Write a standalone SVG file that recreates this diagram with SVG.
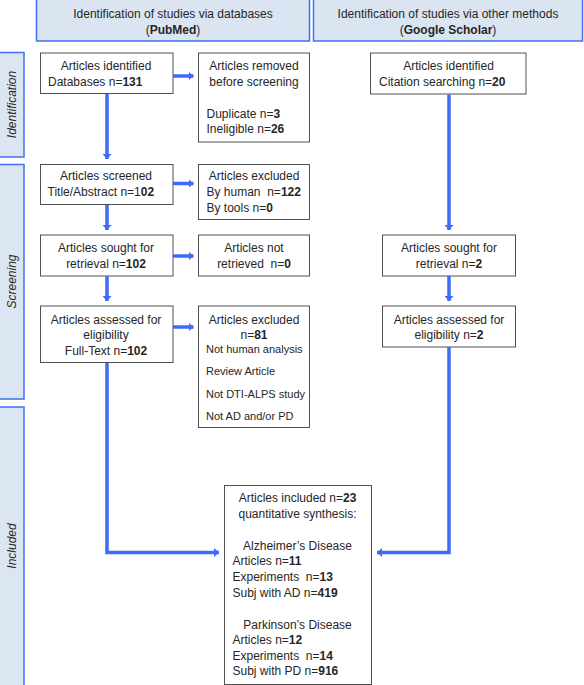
<svg xmlns="http://www.w3.org/2000/svg" width="584" height="685" viewBox="0 0 584 685">
<style>
text{font-family:"Liberation Sans",Arial,sans-serif;font-size:12px;fill:#262626;white-space:pre}
.c{text-anchor:middle}
.s{font-size:11px}
.b{font-weight:bold}
.box{fill:#fff;stroke:#505050;stroke-width:1}
.hdr{fill:#dbe5f1;stroke:#3f6ff5;stroke-width:1.5}
.side{fill:#dce6f2;stroke:#3f6ff5;stroke-width:1.5}
.lbl{font-style:italic;text-anchor:middle}
.ln{fill:none;stroke:#3d6bfa;stroke-width:3.5}
</style>
<defs>
<marker id="ah" markerUnits="userSpaceOnUse" markerWidth="8" markerHeight="9" refX="5" refY="4.5" orient="auto">
<path d="M0,0 L5,4.5 L0,9 Z" fill="#3d6bfa"/>
</marker>
</defs>
<rect width="584" height="685" fill="#fff"/>

<g id="hdr-db"><rect class="hdr" x="36.5" y="-1" width="273" height="42"/>
<text class="c" x="173" y="18">Identification of studies via databases</text>
<text class="c" x="173" y="33.5">(<tspan class="b">PubMed</tspan>)</text></g>
<g id="hdr-other"><rect class="hdr" x="313.5" y="-1" width="269" height="42"/>
<text class="c" x="448" y="18">Identification of studies via other methods</text>
<text class="c" x="448" y="33.5">(<tspan class="b">Google Scholar</tspan>)</text></g>

<g id="side-ident"><rect class="side" x="-1" y="52.5" width="25" height="104.5"/>
<text class="lbl" transform="translate(16,104.5) rotate(-90)">Identification</text></g>
<g id="side-screen"><rect class="side" x="-1" y="164.5" width="25" height="234.5"/>
<text class="lbl" transform="translate(16,281.5) rotate(-90)">Screening</text></g>
<g id="side-incl"><rect class="side" x="-1" y="407" width="25" height="280"/>
<text class="lbl" transform="translate(16,546) rotate(-90)">Included</text></g>

<g id="n-identified"><rect class="box" x="40.5" y="53" width="132.5" height="40.5"/>
<text class="c" x="106" y="70">Articles identified</text>
<text x="48" y="86">Databases n=<tspan class="b">131</tspan></text></g>
<g id="n-removed"><rect class="box" x="198.5" y="53" width="111" height="89"/>
<text class="c" x="254" y="70">Articles removed</text>
<text class="c" x="254" y="86">before screening</text>
<text x="206.5" y="118">Duplicate n=<tspan class="b">3</tspan></text>
<text x="206.5" y="133">Ineligible n=<tspan class="b">26</tspan></text></g>
<g id="n-identified2"><rect class="box" x="370.5" y="53" width="155.5" height="41"/>
<text class="c" x="448.5" y="70">Articles identified</text>
<text x="379" y="86">Citation searching n=<tspan class="b">20</tspan></text></g>

<g id="n-screened"><rect class="box" x="40.5" y="164.5" width="132.5" height="40"/>
<text class="c" x="106" y="180">Articles screened</text>
<text x="47.5" y="196">Title/Abstract n=1<tspan class="b">02</tspan></text></g>
<g id="n-excluded1"><rect class="box" x="198.5" y="164.5" width="111" height="55"/>
<text class="c" x="254" y="180">Articles excluded</text>
<text x="206.5" y="196">By human  n=<tspan class="b">122</tspan></text>
<text x="206.5" y="211.5">By tools n=<tspan class="b">0</tspan></text></g>

<g id="n-sought"><rect class="box" x="40.5" y="235" width="132.5" height="41"/>
<text class="c" x="106" y="252">Articles sought for</text>
<text class="c" x="106" y="267.5">retrieval n=<tspan class="b">102</tspan></text></g>
<g id="n-notretrieved"><rect class="box" x="198.5" y="235" width="111" height="41"/>
<text class="c" x="254" y="252">Articles not</text>
<text class="c" x="254" y="267.5">retrieved  n=<tspan class="b">0</tspan></text></g>
<g id="n-sought2"><rect class="box" x="382.5" y="235" width="133" height="41"/>
<text class="c" x="449" y="252">Articles sought for</text>
<text class="c" x="449" y="267.5">retrieval n=<tspan class="b">2</tspan></text></g>

<g id="n-assessed"><rect class="box" x="40.5" y="306" width="132.5" height="56.5"/>
<text class="c" x="106" y="323.5">Articles assessed for</text>
<text class="c" x="106" y="338.5">eligibility</text>
<text class="c" x="106" y="355">Full-Text n=<tspan class="b">102</tspan></text></g>
<g id="n-excluded2"><rect class="box" x="198.5" y="306" width="111" height="121.5"/>
<text class="c" x="254" y="323.5">Articles excluded</text>
<text class="c" x="254" y="338.5">n=<tspan class="b">81</tspan></text>
<text class="s" x="206" y="353">Not human analysis</text>
<text class="s" x="206" y="375">Review Article</text>
<text class="s" x="206" y="397.5">Not DTI-ALPS study</text>
<text class="s" x="206" y="419.5">Not AD and/or PD</text></g>
<g id="n-assessed2"><rect class="box" x="382.5" y="306" width="133" height="41"/>
<text class="c" x="449" y="323.5">Articles assessed for</text>
<text class="c" x="449" y="338.5">eligibility n=<tspan class="b">2</tspan></text></g>

<g id="n-included"><rect class="box" x="224.5" y="485.5" width="147" height="199"/>
<text class="c" x="297.5" y="502">Articles included n=<tspan class="b">23</tspan></text>
<text class="c" x="297.5" y="517.5">quantitative synthesis:</text>
<text class="c" x="297.5" y="550">Alzheimer’s Disease</text>
<text x="232.5" y="565">Articles n=<tspan class="b">11</tspan></text>
<text x="232.5" y="581">Experiments  n=<tspan class="b">13</tspan></text>
<text x="232.5" y="596.5">Subj with AD n=<tspan class="b">419</tspan></text>
<text class="c" x="297.5" y="628.5">Parkinson’s Disease</text>
<text x="232.5" y="644">Articles n=<tspan class="b">12</tspan></text>
<text x="232.5" y="660">Experiments  n=<tspan class="b">14</tspan></text>
<text x="232.5" y="675">Subj with PD n=<tspan class="b">916</tspan></text></g>

<g id="connectors">
<path class="ln" d="M107,94 V159" marker-end="url(#ah)"/>
<path class="ln" d="M107,205 V230" marker-end="url(#ah)"/>
<path class="ln" d="M107,276 V301" marker-end="url(#ah)"/>
<path class="ln" d="M107,363 V552.5 H219" marker-end="url(#ah)"/>
<path class="ln" d="M173,76 H193.5" marker-end="url(#ah)"/>
<path class="ln" d="M173,183.5 H193.5" marker-end="url(#ah)"/>
<path class="ln" d="M173,256 H193.5" marker-end="url(#ah)"/>
<path class="ln" d="M173,327 H193.5" marker-end="url(#ah)"/>
<path class="ln" d="M449,94.5 V230" marker-end="url(#ah)"/>
<path class="ln" d="M449,276 V301" marker-end="url(#ah)"/>
<path class="ln" d="M449,347 V552.5 H377" marker-end="url(#ah)"/>
</g>
</svg>
